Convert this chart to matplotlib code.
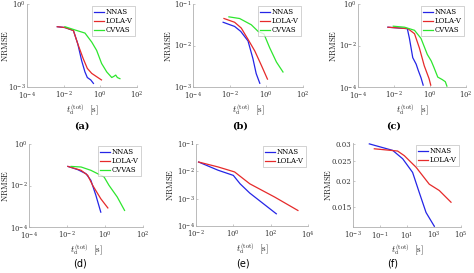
import matplotlib
matplotlib.use("Agg")
import matplotlib.pyplot as plt
from matplotlib.ticker import FixedLocator, FixedFormatter, NullLocator

plt.rcParams["mathtext.fontset"] = "cm"
plt.rcParams["font.family"] = ["DejaVu Serif"]

BLUE = "#2525e6"
RED = "#e62a2a"
GREEN = "#2ee62e"

# (a)
a_nnas_x = [4.5e-3, 1.17e-2, 3.4e-2, 5.9e-2, 9.5e-2, 0.145, 0.195, 0.30, 0.42]
a_nnas_y = [0.151, 0.141, 0.110, 0.036, 9.1e-3, 3.5e-3, 2.2e-3, 1.8e-3, 1.35e-3]
a_lola_x = [4.5e-3, 1.17e-2, 3.4e-2, 5.9e-2, 0.117, 0.195, 0.34, 1.15]
a_lola_y = [0.151, 0.141, 0.110, 0.036, 0.0105, 4.7e-3, 3.1e-3, 1.8e-3]
a_cvvas_x = [1.17e-2, 0.042, 0.145, 0.34, 0.63, 1.17, 2.24, 4.2, 5.6, 6.9, 8.5, 11.7]
a_cvvas_y = [0.151, 0.115, 0.089, 0.042, 0.021, 7.1e-3, 3.5e-3, 2.2e-3, 2.45e-3, 2.7e-3, 2.2e-3, 2.0e-3]

# (b)
b_nnas_x = [4.4e-3, 0.0186, 0.040, 0.10, 0.186, 0.28, 0.44]
b_nnas_y = [0.0363, 0.0288, 0.0219, 0.0129, 4.8e-3, 2.1e-3, 1.23e-3]
b_lola_x = [4.9e-3, 0.0186, 0.043, 0.10, 0.234, 0.54, 1.15]
b_lola_y = [0.0447, 0.0363, 0.0263, 0.0141, 7.4e-3, 3.3e-3, 1.55e-3]
b_cvvas_x = [9.1e-3, 0.035, 0.151, 0.355, 0.74, 1.51, 3.55, 8.1]
b_cvvas_y = [0.049, 0.0447, 0.0316, 0.0219, 0.019, 8.9e-3, 4.0e-3, 2.3e-3]

# (c)
c_nnas_x = [4.6e-3, 0.055, 0.072, 0.11, 0.17, 0.224, 0.316, 0.417]
c_nnas_y = [0.076, 0.065, 0.022, 2.6e-3, 1.26e-3, 6.2e-4, 2.8e-4, 1.23e-4]
c_lola_x = [4.6e-3, 0.059, 0.138, 0.257, 0.48, 0.89, 1.1]
c_lola_y = [0.076, 0.065, 0.037, 7.6e-3, 1.05e-3, 2.5e-4, 1.23e-4]
c_cvvas_x = [9.1e-3, 0.039, 0.138, 0.316, 0.71, 1.17, 1.66, 2.7, 4.7, 7.1, 8.7]
c_cvvas_y = [0.085, 0.076, 0.054, 0.022, 3.7e-3, 1.8e-3, 8.7e-4, 3.0e-4, 2.3e-4, 1.8e-4, 1.1e-4]

# (d)
d_nnas_x = [0.0112, 0.037, 0.10, 0.18, 0.33, 0.60]
d_nnas_y = [0.083, 0.058, 0.037, 0.0178, 3.4e-3, 5.2e-4]
d_lola_x = [0.0112, 0.055, 0.123, 0.224, 0.60, 1.41]
d_lola_y = [0.083, 0.054, 0.031, 0.0102, 2.3e-3, 8.3e-4]
d_cvvas_x = [0.0166, 0.055, 0.18, 0.89, 1.62, 4.4, 10.7]
d_cvvas_y = [0.083, 0.078, 0.054, 0.026, 0.0102, 2.8e-3, 6.3e-4]

# (e)
e_nnas_x = [0.0138, 0.151, 1.0, 2.3, 7.6, 200]
e_nnas_y = [0.0219, 0.011, 7.1e-3, 3.5e-3, 1.6e-3, 2.8e-4]
e_lola_x = [0.0138, 0.151, 1.17, 7.6, 162, 2880]
e_lola_y = [0.0219, 0.0145, 9.5e-3, 3.5e-3, 1.15e-3, 3.7e-4]

# (f)
f_nnas_x = [0.0162, 0.87, 4.8, 26, 81, 257, 1050]
f_nnas_y = [0.0302, 0.0281, 0.0256, 0.0220, 0.0176, 0.0141, 0.0121]
f_lola_x = [0.038, 2.0, 6.3, 47, 447, 2450, 18200]
f_lola_y = [0.0286, 0.0279, 0.0265, 0.0233, 0.0193, 0.0180, 0.0158]

f_yticks = [0.015, 0.02, 0.025, 0.03]
f_yticklabels = ["0.015", "0.02", "0.025", "0.03"]

fig = plt.figure(figsize=(4.74, 2.73), dpi=100)

W, H = 474.0, 273.0
def add_ax(x0, x1, y0, y1):
    return fig.add_axes([x0 / W, 1 - y1 / H, (x1 - x0) / W, (y1 - y0) / H])

panels = [
    dict(box=(27, 137, 4, 87), xlim=(1e-4, 1e2), ylim=(1e-3, 1e0),
         xt=[1e-4, 1e-2, 1e0, 1e2], yt=[1e-3, 1e0], ylab=-17,
         series=[(a_nnas_x, a_nnas_y), (a_lola_x, a_lola_y), (a_cvvas_x, a_cvvas_y)]),
    dict(box=(193, 303, 4, 87), xlim=(1e-4, 1e2), ylim=(1e-3, 1e-1),
         xt=[1e-4, 1e-2, 1e0, 1e2], yt=[1e-3, 1e-2, 1e-1], ylab=-20,
         series=[(b_nnas_x, b_nnas_y), (b_lola_x, b_lola_y), (b_cvvas_x, b_cvvas_y)]),
    dict(box=(358, 466, 4, 87), xlim=(1e-4, 1e2), ylim=(1e-4, 1e0),
         xt=[1e-4, 1e-2, 1e0, 1e2], yt=[1e-4, 1e-2, 1e0], ylab=-20,
         series=[(c_nnas_x, c_nnas_y), (c_lola_x, c_lola_y), (c_cvvas_x, c_cvvas_y)]),
    dict(box=(29, 143, 144, 227), xlim=(1e-4, 1e2), ylim=(1e-4, 1e0),
         xt=[1e-4, 1e-2, 1e0, 1e2], yt=[1e-4, 1e-2, 1e0], ylab=-19,
         series=[(d_nnas_x, d_nnas_y), (d_lola_x, d_lola_y), (d_cvvas_x, d_cvvas_y)]),
    dict(box=(196, 308, 144, 226), xlim=(1e-2, 1e4), ylim=(1e-4, 1e-1),
         xt=[1e-2, 1e0, 1e2, 1e4], yt=[1e-4, 1e-3, 1e-2, 1e-1], ylab=-21,
         series=[(e_nnas_x, e_nnas_y), (e_lola_x, e_lola_y)]),
    dict(box=(353, 461, 143, 227), xlim=(1e-3, 1e5), ylim=(0.012, 0.0305),
         xt=[1e-3, 1e-1, 1e1, 1e3, 1e5], yt=None, ylab=-20,
         series=[(f_nnas_x, f_nnas_y), (f_lola_x, f_lola_y)]),
]

names = ["NNAS", "LOLA-V", "CVVAS"]
colors = [BLUE, RED, GREEN]

for p in panels:
    ax = add_ax(*p["box"])
    for (xs, ys), c, n in zip(p["series"], colors, names):
        ax.plot(xs, ys, color=c, lw=0.9, label=n)
    ax.set_xscale("log")
    ax.set_yscale("log")
    ax.set_xlim(*p["xlim"])
    ax.set_ylim(*p["ylim"])
    ax.xaxis.set_major_locator(FixedLocator(p["xt"]))
    ax.xaxis.set_minor_locator(NullLocator())
    if p["yt"] is not None:
        ax.yaxis.set_major_locator(FixedLocator(p["yt"]))
    else:
        ax.yaxis.set_major_locator(FixedLocator(f_yticks))
        ax.yaxis.set_major_formatter(FixedFormatter(f_yticklabels))
    ax.yaxis.set_minor_locator(NullLocator())
    for s in ["top", "right"]:
        ax.spines[s].set_visible(False)
    for s in ["left", "bottom"]:
        ax.spines[s].set_color("#b0b0b0")
        ax.spines[s].set_linewidth(0.6)
    ax.tick_params(direction="in", length=1.5, width=0.5, color="#b0b0b0",
                   labelsize=5, labelcolor="#333333", pad=2)
    ax.tick_params(axis="y", pad=1)
    ax.set_xlabel(r"$t_a^{(\mathrm{tot})}\ \ [\mathrm{s}]$", fontsize=6.5, labelpad=0.5, color="#222222")
    ax.set_ylabel(r"$\mathrm{NRMSE}$", fontsize=6, color="#222222")
    bw = p["box"][1] - p["box"][0]
    ax.yaxis.set_label_coords(p["ylab"] / bw, 0.5)
    leg = ax.legend(loc="upper right", handlelength=1.4, handletextpad=0.3,
                    borderpad=0.3, labelspacing=0.15, borderaxespad=0.3, fancybox=False,
                    prop={"family": "DejaVu Serif", "size": 5})
    leg.get_frame().set_edgecolor("#b0b0b0")
    leg.get_frame().set_linewidth(0.5)

caps = [("(a)", 82, 126, True), ("(b)", 240, 126, True), ("(c)", 394, 126, True),
        ("(d)", 80, 264, False), ("(e)", 243, 264, False), ("(f)", 393, 264, False)]
for t, x, y, bold in caps:
    if bold:
        fig.text(x / W, 1 - y / H, t, ha="center", va="center", fontsize=7,
                 fontweight="bold", family="DejaVu Serif")
    else:
        fig.text(x / W, 1 - y / H, t, ha="center", va="center", fontsize=7,
                 family="DejaVu Sans")

fig.savefig("out.png", dpi=100)
